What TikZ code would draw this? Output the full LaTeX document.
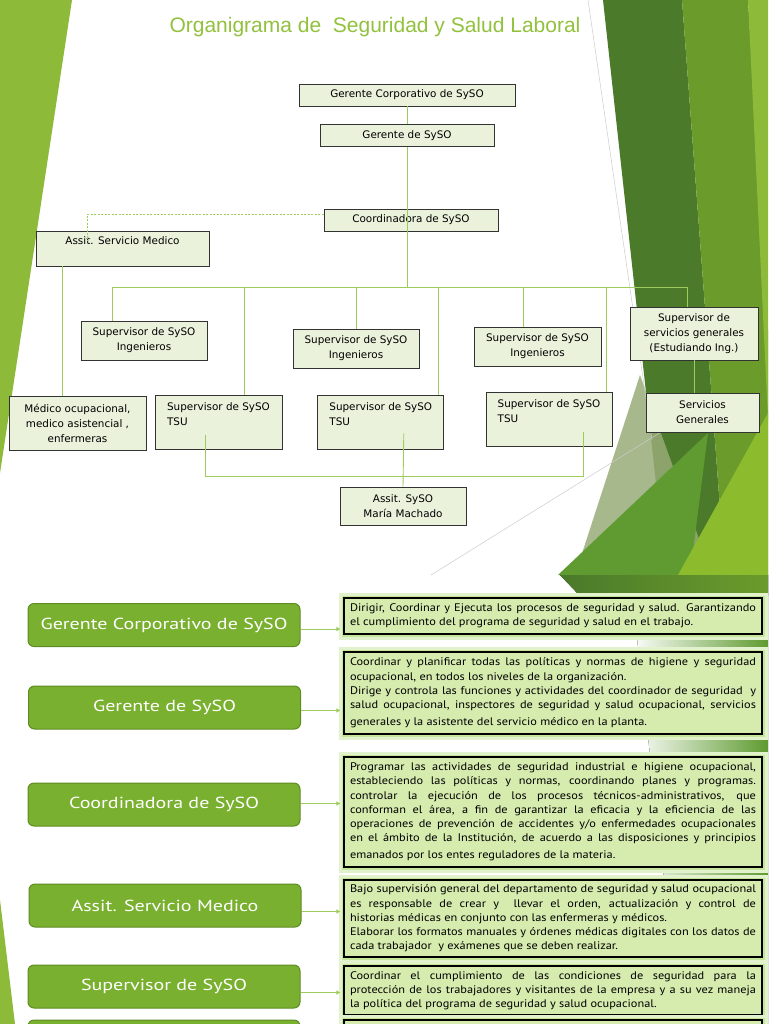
\documentclass[tikz,border=0pt]{standalone}
\usepackage{fontspec}
\setmainfont{PT Sans}
\newfontfamily\orgfont{DejaVu Sans}
\newfontfamily\titlefont{Liberation Sans}
\newfontfamily\rolefont[FakeStretch=1.25]{PT Sans}
\newfontfamily\descfont[FakeStretch=1.12]{PT Sans}
\usepackage{xcolor}
\usetikzlibrary{positioning, arrows.meta}
\definecolor{titlegreen}{HTML}{92C13E}
\definecolor{leafgreen}{HTML}{8DBA38}
\definecolor{darkleaf}{HTML}{4A7A2A}
\definecolor{midleaf}{HTML}{6B9B2B}
\definecolor{greyleaf}{HTML}{98AC78}
\definecolor{grassgreen}{HTML}{5F9B30}
\definecolor{limeleaf}{HTML}{8DBB2E}
\definecolor{linegreen}{HTML}{9DCB5C}
\definecolor{orgfill}{HTML}{EBF2DC}
\definecolor{rolegreen}{HTML}{7AB02F}
\definecolor{roleedge}{HTML}{5E8C22}
\definecolor{descfill}{HTML}{D6EBAE}
\definecolor{glowgreen}{HTML}{C5E59A}
\newcommand{\jline}[1]{\makebox[406pt][s]{#1}}

\begin{document}
\begin{tikzpicture}[
        x=1pt, y=1pt,
        orgbox/.style = {draw=black!80, line width=0.8pt, fill=orgfill, minimum height=22pt, align=center, inner sep=2pt, font=\orgfont\fontsize{10.4}{15}\selectfont},
        link/.style = {draw=linegreen, line width=0.9pt},
        linkdash/.style = {link, dash pattern=on 2pt off 1.5pt},
        rolebox/.style = {draw=roleedge, line width=1pt, fill=rolegreen, rounded corners=6pt, minimum width=272pt, minimum height=43pt, text=white, font=\rolefont\fontsize{16}{20}\selectfont},
        descbox/.style = {draw=black, line width=1.4pt, fill=descfill, minimum width=418pt, align=left, inner xsep=6pt, inner ysep=2pt,
            font=\descfont\fontsize{11}{14.2}\selectfont,
            preaction={draw=glowgreen!50, line width=11pt}, preaction={draw=glowgreen, line width=5pt}},
        pointer/.style = {draw=linegreen, line width=1pt, -{Triangle[length=4pt, width=4pt]}, shorten >=3pt},
    ]
        \useasboundingbox (0,0) rectangle (768,-1024);
        \fill[white] (0,0) rectangle (768,-1024);

        \fill[leafgreen] (0,0) -- (72,0) -- (0,-473) -- cycle;
        \fill[darkleaf] (603,0) -- (682,0) -- (725,-575) -- (666,-575) -- cycle;
        \fill[midleaf] (682,0) -- (748,0) -- (768,-330) -- (768,-575) -- (725,-575) -- cycle;
        \fill[leafgreen] (748,0) -- (768,0) -- (768,-420) -- cycle;
        \fill[greyleaf, opacity=.85] (640,-375) -- (712,-575) -- (575,-575) -- cycle;
        \fill[grassgreen] (558,-575) -- (708,-433) -- (690,-575) -- cycle;
        \fill[limeleaf] (678,-575) -- (768,-413) -- (768,-575) -- cycle;
        \draw[black!20, line width=.5pt] (588,0) -- (652,-440);
        \draw[black!20, line width=.5pt] (431,-575) -- (661,-432);

        \fill[left color=white, right color=grassgreen] (630,-575) -- (768,-575) -- (768,-1024) -- (680,-1024) -- cycle;
        \fill[left color=darkleaf, right color=midleaf] (560,-575) -- (768,-575) -- (768,-596) -- (580,-596) -- cycle;
        \fill[leafgreen] (0,-900) -- (15,-1024) -- (0,-1024) -- cycle;

        \node[font=\titlefont\fontsize{21}{25}\selectfont, text=titlegreen] (title) at (375,-27) {Organigrama de~ Seguridad y Salud Laboral};

        \node[orgbox, minimum width=216pt] (gcorp) at (407,-95) {Gerente Corporativo de SySO};
        \node[orgbox, minimum width=174pt, below=18pt of gcorp] (gsyso) {Gerente de SySO};
        \node[orgbox, minimum width=174pt] (coord) at (411,-220) {Coordinadora de SySO};
        \node[orgbox, minimum width=173pt, minimum height=35pt] (asm) at (122.5,-248.5) {Assit. Servicio Medico\\ \mbox{}};
        \node[orgbox, minimum width=126pt, minimum height=39pt] (sup1) at (144,-340.5) {Supervisor de SySO\\Ingenieros};
        \node[orgbox, minimum width=126pt, minimum height=39pt] (sup2) at (356,-348.5) {Supervisor de SySO\\Ingenieros};
        \node[orgbox, minimum width=127pt, minimum height=39pt] (sup3) at (537.5,-346.5) {Supervisor de SySO\\Ingenieros};
        \node[orgbox, minimum width=128pt, minimum height=53pt] (ssg) at (694,-333.5) {Supervisor de\\servicios generales\\(Estudiando Ing.)};
        \node[orgbox, minimum width=137pt, minimum height=54pt] (med) at (77.5,-423) {Médico ocupacional,\\medico asistencial ,\\enfermeras};
        \node[orgbox, minimum width=127pt, minimum height=54pt, align=left] (tsu1) at (218.5,-422) {Supervisor de SySO\\TSU\\ \mbox{}};
        \node[orgbox, minimum width=126pt, minimum height=54pt, align=left, right=35pt of tsu1] (tsu2) {Supervisor de SySO\\TSU\\ \mbox{}};
        \node[orgbox, minimum width=126pt, minimum height=54pt, align=left] (tsu3) at (549,-419) {Supervisor de SySO\\TSU\\ \mbox{}};
        \node[orgbox, minimum width=113pt, minimum height=39pt] (sg) at (702.5,-412.5) {Servicios\\Generales};
        \node[orgbox, minimum width=126pt, minimum height=38pt] (assys) at (403,-506) {Assit. SySO\\María Machado};

        \coordinate (busL) at (112,-287);
        \coordinate (busR) at (687,-287);
        \draw[link] (gcorp.south) -- (gcorp.south |- gsyso.north);
        \draw[link] (gsyso) -- (gsyso |- busL);
        \draw[link] (busL) -- (busR);
        \draw[link] (busL) -- (busL |- sup1.north);
        \draw[link] (busR) -- (busR |- ssg.north);
        \foreach \tx/\target in {244/tsu1, 356/sup2, 438/tsu2, 523/sup3, 606/tsu3} {
            \coordinate (tap) at (\tx,-287);
            \draw[link] (tap) -- (tap |- \target.north);
        }
        \draw[linkdash] ([yshift=6pt]coord.west) -| ([xshift=-35pt,yshift=-10pt]asm.north);
        \coordinate (asmtap) at ([xshift=-60pt]asm.south);
        \draw[link] (asmtap) -- (asmtap |- med.north);
        \draw[link] (ssg.south) -- (ssg.south |- sg.north);
        \draw[link] ([xshift=-13pt,yshift=14pt]tsu1.south) -- ++(0,-41) -| ([xshift=34pt,yshift=14pt]tsu3.south);
        \draw[link] ([xshift=23pt,yshift=16pt]tsu2.south) -- (assys.north);

        \node[rolebox] (role1) at (164,-625) {Gerente Corporativo de SySO};
        \node[rolebox] (role2) at (164.5,-707.5) {Gerente de SySO};
        \node[rolebox] (role3) at (164,-804.5) {Coordinadora de SySO};
        \node[rolebox] (role4) at (165,-905.5) {Assit. Servicio Medico};
        \node[rolebox] (role5) at (164,-986.5) {Supervisor de SySO};
        \node[rolebox] (role6) at (164,-1041.5) {};

        \node[descbox, minimum height=36pt] (desc1) at (553,-616) {\jline{Dirigir, Coordinar y Ejecuta los procesos de seguridad y salud. Garantizando}\\ el cumplimiento del programa de seguridad y salud en el trabajo.};
        \node[descbox, minimum height=82pt] (desc2) at (553,-693) {\jline{Coordinar y planificar todas las políticas y normas de higiene y seguridad}\\ ocupacional, en todos los niveles de la organización.\\ \jline{Dirige y controla las funciones y actividades del coordinador de seguridad~ y}\\ \jline{salud ocupacional, inspectores de seguridad y salud ocupacional, servicios}\\[3pt] generales y la asistente del servicio médico en la planta.};
        \node[descbox, minimum height=110pt] (desc3) at (553,-812) {\jline{Programar las actividades de seguridad industrial e higiene ocupacional,}\\ \jline{estableciendo las políticas y normas, coordinando planes y programas.}\\ \jline{controlar la ejecución de los procesos técnicos-administrativos, que}\\ \jline{conforman el área, a fin de garantizar la eficacia y la eficiencia de las}\\ \jline{operaciones de prevención de accidentes y/o enfermedades ocupacionales}\\ \jline{en el ámbito de la Institución, de acuerdo a las disposiciones y principios}\\[3pt] emanados por los entes reguladores de la materia.};
        \node[descbox, minimum height=77pt] (desc4) at (553,-918.5) {\jline{Bajo supervisión general del departamento de seguridad y salud ocupacional}\\ \jline{es responsable de crear y~ llevar el orden, actualización y control de}\\ historias médicas en conjunto con las enfermeras y médicos.\\ \jline{Elaborar los formatos manuales y órdenes médicas digitales con los datos de}\\ cada trabajador~ y exámenes que se deben realizar.};
        \node[descbox, minimum height=49pt] (desc5) at (553,-990.5) {\jline{Coordinar el cumplimiento de las condiciones de seguridad para la}\\ \jline{protección de los trabajadores y visitantes de la empresa y a su vez maneja}\\ la política del programa de seguridad y salud ocupacional.};
        \node[descbox, minimum height=50pt, text width=406pt] (desc6) at (553,-1045) {};

        \foreach \i/\dy in {1/-4, 2/-3, 3/1, 4/-6, 5/-6} {
            \path ([yshift=\dy pt]role\i.east) coordinate (tail);
            \draw[pointer] (tail) -- (tail -| desc\i.west);
        }
    \end{tikzpicture}
\end{document}
